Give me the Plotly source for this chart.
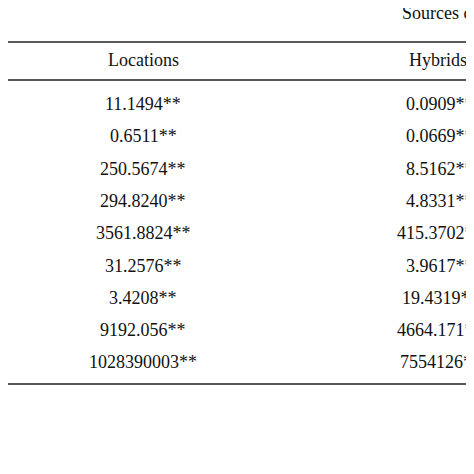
import plotly.graph_objects as go

header_top = "Sources of"
col_headers = ["Locations", "Hybrids"]
locations = ["11.1494**", "0.6511**", "250.5674**", "294.8240**", "3561.8824**",
             "31.2576**", "3.4208**", "9192.056**", "1028390003**"]
hybrids = ["0.0909**", "0.0669**", "8.5162**", "4.8331**", "415.3702**",
           "3.9617**", "19.4319**", "4664.171**", "7554126**"]
footnote = "and (ns) are not significant at 5% probability by"

F = dict(family="Liberation Serif, Times New Roman, serif", size=18, color="#111")
fig = go.Figure()
ann = []
ann.append(dict(x=400, y=13, text=header_top, xanchor="left"))
ann.append(dict(x=143, y=60, text=col_headers[0], xanchor="center"))
ann.append(dict(x=407, y=60, text=col_headers[1], xanchor="left"))
y0, dy = 104, 32.3
for i, (a, b) in enumerate(zip(locations, hybrids)):
    y = y0 + i * dy
    ann.append(dict(x=143, y=y, text=a, xanchor="center"))
    ann.append(dict(x=440, y=y, text=b, xanchor="center"))
ann.append(dict(x=1, y=410, text=footnote, xanchor="left"))
for a in ann:
    a.update(xref="x", yref="y", showarrow=False, font=F, yanchor="middle")
shapes = [dict(type="line", xref="x", yref="y", x0=-10, x1=490, y0=yy, y1=yy,
               line=dict(color="#222", width=1.3)) for yy in (42, 80, 384)]
fig.update_layout(width=474, height=474, margin=dict(l=0, r=0, t=0, b=0),
                  paper_bgcolor="white", plot_bgcolor="white",
                  annotations=ann, shapes=shapes, showlegend=False,
                  xaxis=dict(range=[8, 482], visible=False, fixedrange=True),
                  yaxis=dict(range=[482, 8], visible=False, fixedrange=True))
fig.write_html("out.html")
